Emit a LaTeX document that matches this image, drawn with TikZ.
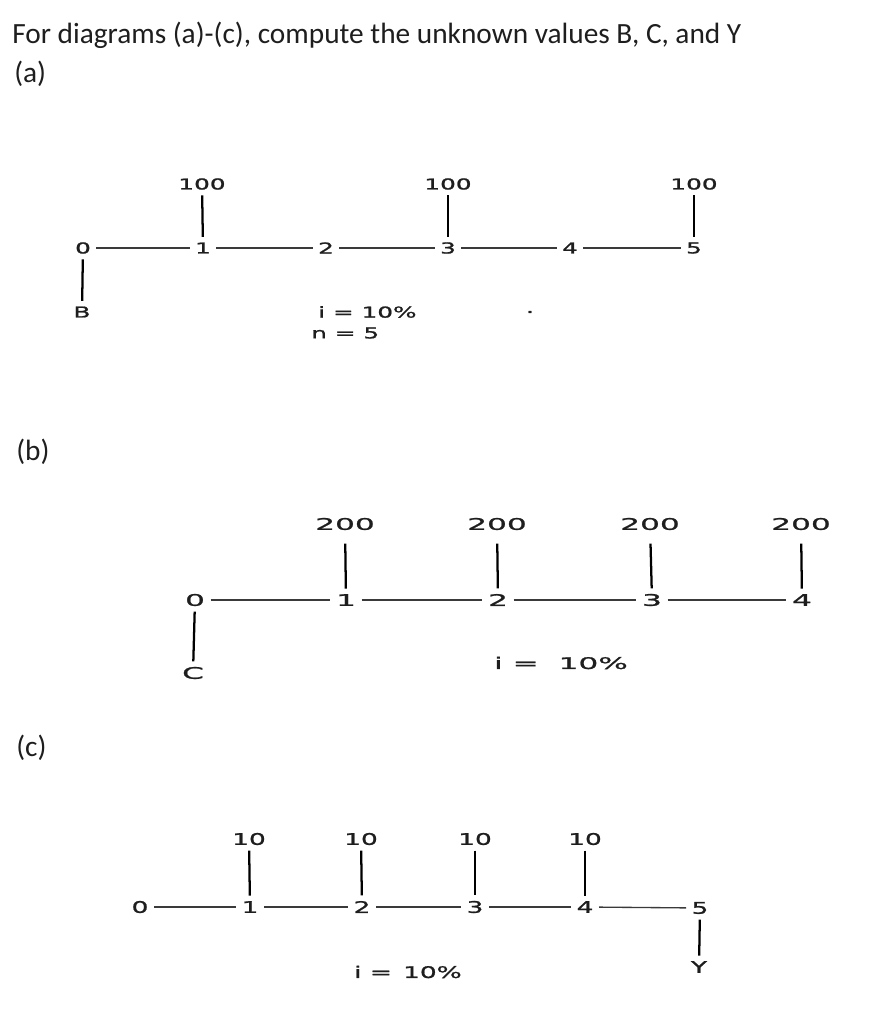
\documentclass[tikz,border=0pt]{standalone}
\usepackage{fontspec}
\setmainfont{Carlito}
\newfontfamily\tlfont[FakeStretch=1.65,FakeBold=1.3]{DejaVu Sans}
\newfontfamily\tlwide[FakeStretch=1.95,FakeBold=1.3]{DejaVu Sans}
\definecolor{axisgray}{HTML}{3A3A3A}
\definecolor{ink}{HTML}{1E1E1E}

\tikzset{
  axisline/.style={draw=axisgray, line width=1pt},
  tickline/.style={draw=black, line width=1.7pt},
}

\begin{document}
\begin{tikzpicture}[x=0.75pt,y=-0.75pt]
\useasboundingbox (0,0) rectangle (872,1024);

        \begin{scope}[every node/.style={anchor=west,inner sep=0pt,text=ink,font=\fontsize{22}{26}\selectfont}]
          \node (title) at (12,35) {For diagrams (a)-(c), compute the unknown values B, C, and Y};
          \node (parta) at (14,74) {(a)};
          \node (partb) at (16,452) {(b)};
          \node (partc) at (16,748) {(c)};
        \end{scope}

        % (a)
        \begin{scope}[every node/.style={inner sep=4pt,text=ink,font=\tlfont\fontsize{11.25}{13}\selectfont}]
          \node (a0) at (83,248)  {0};
          \node (a1) at (203,248) {1};
          \node (a2) at (326,248) {2};
          \node (a3) at (448,248) {3};
          \node (a4) at (570,248) {4};
          \node (a5) at (694,248) {5};
          \node (A1) at (202,184) {100};
          \node (A3) at (448,184) {100};
          \node (A5) at (694,184) {100};
          \node (B)  at (82,312)  {B};
          \node[anchor=west,inner sep=0pt] (ai) at (318,312) {i = 10\%};
          \node[anchor=west,inner sep=0pt] (an) at (311,333) {n = 5};
          \node (dot) at (530,312) {.};
        \end{scope}

        \begin{scope}[every edge/.style={axisline}]
          \path (a0) edge (a1);
          \path (a1) edge (a2);
          \path (a2) edge (a3);
          \path (a3) edge (a4);
          \path (a4) edge (a5);
        \end{scope}
        \begin{scope}[every edge/.style={tickline}]
          \path (A1) edge (a1);
          \path (A3) edge (a3);
          \path (A5) edge (a5);
          \path (a0) edge (B);
        \end{scope}

        % (b)
        \begin{scope}[every node/.style={inner sep=4pt,text=ink,font=\tlwide\fontsize{12}{14}\selectfont}]
          \node (b0) at (195,600) {0};
          \node (b1) at (346,600) {1};
          \node (b2) at (498,600) {2};
          \node (b3) at (652,600) {3};
          \node (b4) at (802,600) {4};
          \node (P1) at (345,524) {200};
          \node (P2) at (497,524) {200};
          \node (P3) at (650,524) {200};
          \node (P4) at (801,524) {200};
          \node (C)  at (193,673) {C};
          \node (bi) at (561,663) {i =\ \ 10\%};
        \end{scope}

        \begin{scope}[every edge/.style={axisline}]
          \path (b0) edge (b1);
          \path (b1) edge (b2);
          \path (b2) edge (b3);
          \path (b3) edge (b4);
        \end{scope}
        \begin{scope}[every edge/.style={tickline}]
          \path (P1) edge[shorten <=6pt] (b1);
          \path (P2) edge[shorten <=6pt] (b2);
          \path (P3) edge[shorten <=6pt] (b3);
          \path (P4) edge[shorten <=6pt] (b4);
          \path (b0) edge (C);
        \end{scope}

        % (c)
        \begin{scope}[every node/.style={inner sep=4pt,text=ink,font=\tlfont\fontsize{12}{14}\selectfont}]
          \node (c0) at (140,907) {0};
          \node (c1) at (250,907) {1};
          \node (c2) at (362,907) {2};
          \node (c3) at (475,907) {3};
          \node (c4) at (585,907) {4};
          \node (c5) at (700,908) {5};
          \node (Q1) at (249,839) {10};
          \node (Q2) at (361,839) {10};
          \node (Q3) at (475,839) {10};
          \node (Q4) at (585,839) {10};
          \node (Y)  at (699,967) {Y};
          \node (ci) at (408,972) {i = \,10\%};
        \end{scope}

        \begin{scope}[every edge/.style={axisline}]
          \path (c0) edge (c1);
          \path (c1) edge (c2);
          \path (c2) edge (c3);
          \path (c3) edge (c4);
          \path (c4) edge (c5);
        \end{scope}
        \begin{scope}[every edge/.style={tickline}]
          \path (Q1) edge (c1);
          \path (Q2) edge (c2);
          \path (Q3) edge (c3);
          \path (Q4) edge (c4);
          \path (c5) edge (Y);
        \end{scope}

      \end{tikzpicture}
\end{document}
